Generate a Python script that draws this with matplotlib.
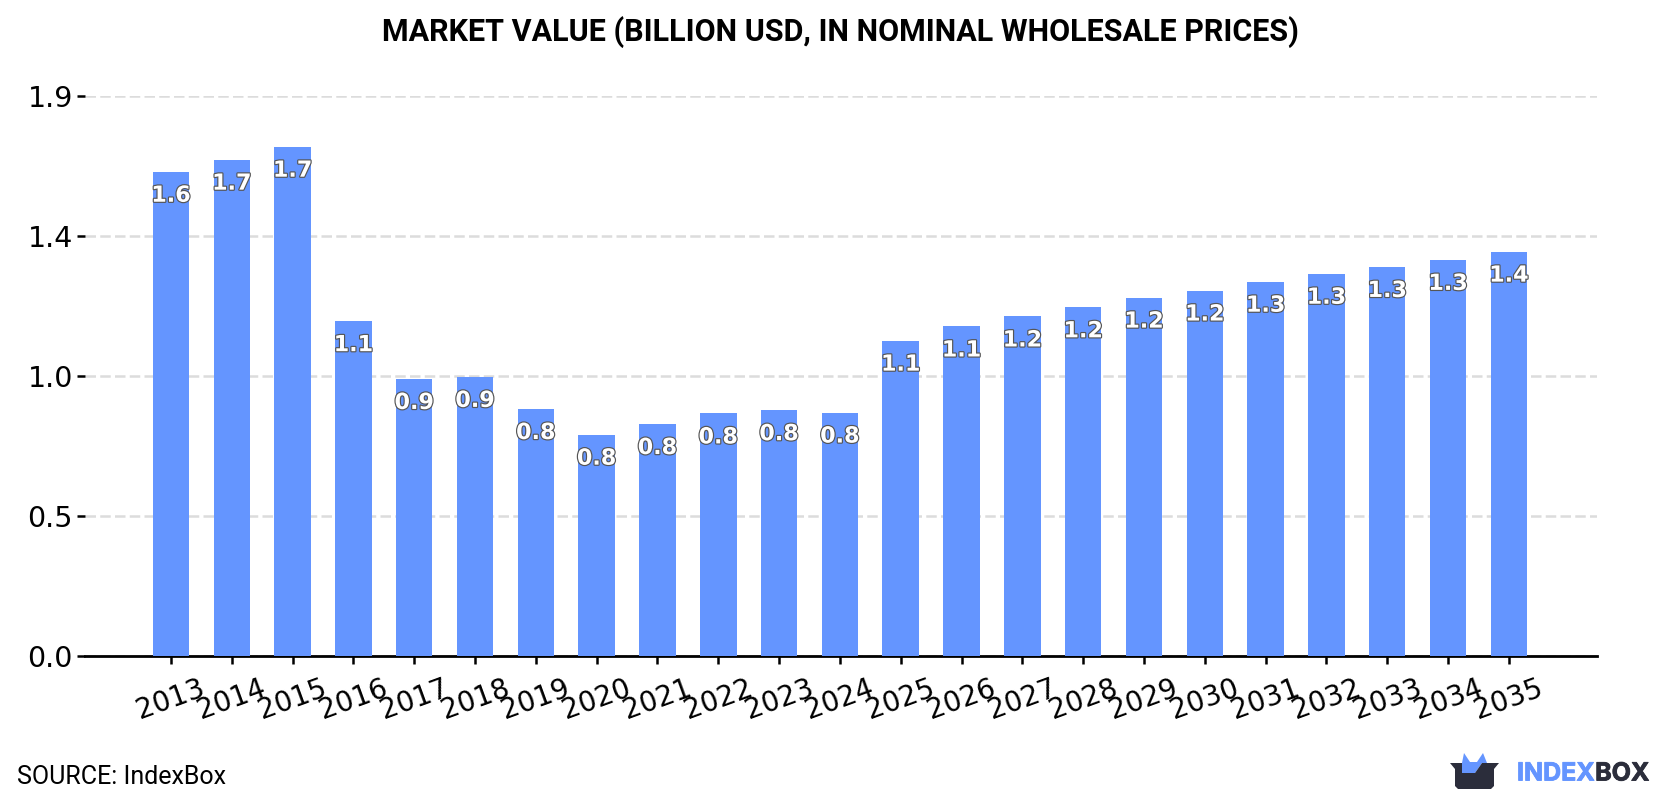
#!/usr/bin/env python3
# -*- coding: utf-8 -*-
import matplotlib
matplotlib.use('Agg')
import matplotlib.pyplot as plt
import matplotlib.patheffects as pe
from matplotlib.patches import Polygon

# ========== data ==========
years = [2013, 2014, 2015, 2016, 2017, 2018, 2019, 2020, 2021, 2022, 2023, 2024,
         2025, 2026, 2027, 2028, 2029, 2030, 2031, 2032, 2033, 2034, 2035]
values = [1.643, 1.684, 1.728, 1.136, 0.940, 0.947, 0.838, 0.751, 0.787, 0.823, 0.834, 0.826,
          1.070, 1.118, 1.152, 1.183, 1.216, 1.240, 1.270, 1.297, 1.320, 1.344, 1.372]
y_ticks = [0.0, 0.475, 0.95, 1.425, 1.9]
y_labels = ['0.0', '0.5', '1.0', '1.4', '1.9']

BLUE = '#6495FF'
DARK = '#2B2D3B'

fig = plt.figure(figsize=(16.8, 8), dpi=100)
ax = fig.add_axes([85 / 1680, 1 - 656 / 800, (1597 - 85) / 1680, (656 - 96) / 800])

# ========== bars ==========
x = list(range(len(years)))
ax.bar(x, values, width=0.6, color=BLUE, zorder=3)

for xi, v in zip(x, values):
    ax.annotate(f'{v:.1f}', (xi, v), xytext=(0, -24), textcoords='offset pixels',
                ha='center', va='center', fontsize=16, fontweight='bold', color='white',
                family='DejaVu Sans', zorder=4,
                path_effects=[pe.withStroke(linewidth=1.7, foreground='#555555')])

# ========== axes ==========
ax.set_xlim(-1.414, 23.45)
ax.set_ylim(0, 1.9)
ax.set_yticks(y_ticks)
ax.set_yticklabels(y_labels, fontsize=20.5, family='DejaVu Sans')
ax.set_xticks(x)
ax.set_xticklabels(years, fontsize=20, rotation=20, family='DejaVu Sans')
ax.tick_params(axis='y', length=5.76, width=1.8, pad=3)
ax.tick_params(axis='x', length=5.76, width=1.8, pad=7)
ax.grid(axis='y', color='#DCDCDC', linewidth=1.8, linestyle=(0, (4.2, 1.7)), zorder=0)
for side in ['top', 'right', 'left']:
    ax.spines[side].set_visible(False)
ax.spines['bottom'].set_linewidth(2)

# ========== title and footer ==========
fig.text(0.5, 1 - 32 / 800, 'MARKET VALUE (BILLION USD, IN NOMINAL WHOLESALE PRICES)',
         ha='center', va='center', fontsize=22, fontweight='bold', family='Roboto')
fig.text(17 / 1680, 1 - 777 / 800, 'SOURCE: IndexBox', ha='left', va='center',
         fontsize=18, family='Roboto')

# ========== logo ==========
logo = fig.add_axes([0, 0, 1, 1], facecolor='none')
logo.set_xlim(0, 1680)
logo.set_ylim(800, 0)
logo.axis('off')
logo.add_patch(Polygon([(1462, 773), (1462, 763), (1464, 753), (1470, 762), (1477, 762),
                        (1483, 753), (1487, 763), (1482, 763), (1475, 773)],
                       closed=True, color=BLUE, lw=0))
logo.add_patch(Polygon([(1450, 763), (1462, 763), (1462, 773), (1475, 773), (1482, 763),
                        (1499, 763), (1494, 769), (1494, 786), (1491, 789), (1458, 789),
                        (1455, 786), (1455, 769)],
                       closed=True, color=DARK, lw=0))
t1 = logo.text(1517, 774, 'INDEX', ha='left', va='center', fontsize=18, fontweight='bold',
               family='Inter', color=BLUE,
               path_effects=[pe.withStroke(linewidth=0.6, foreground=BLUE)])
fig.canvas.draw()
box = t1.get_window_extent()
logo.text(box.x1 + 0.5, 774, 'BOX', ha='left', va='center', fontsize=18, fontweight='bold',
          family='Inter', color=DARK,
          path_effects=[pe.withStroke(linewidth=0.6, foreground=DARK)])

plt.savefig('out.png', dpi=100)
